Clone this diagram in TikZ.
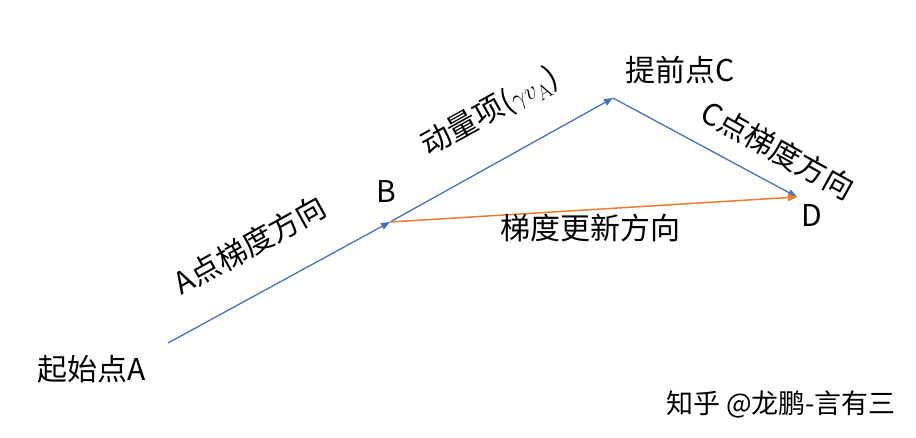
\documentclass[tikz,border=0pt]{standalone}
\usepackage{fontspec}
\newfontfamily\cjk{Noto Sans CJK SC}
\usetikzlibrary{arrows.meta}
\begin{document}
\begin{tikzpicture}[x=1pt,y=-1pt,
 lbl/.style={font=\cjk\fontsize{30}{34}\selectfont,inner sep=0pt},
 blu/.style={draw={rgb,255:red,68;green,114;blue,196},line width=1.3pt,-{Triangle[length=9pt,width=7pt]}},
 org/.style={draw={rgb,255:red,237;green,125;blue,49},line width=1.5pt,-{Triangle[length=9pt,width=7pt]}}]
\useasboundingbox (0,0) rectangle (916,438);
\coordinate (A) at (168,343);
\coordinate (B) at (390,222);
\coordinate (C) at (613,98);
\coordinate (D) at (797,197);
\draw[blu] (A) -- (B);
\draw[blu] (B) -- (C);
\draw[blu] (C) -- (D);
\draw[org] (B) -- (D);
\node[lbl] (tA) at (92,369) {起始点A};
\node[lbl] (tB) at (386,192) {B};
\node[lbl] (tC) at (680,70) {提前点C};
\node[lbl] (tD) at (812,216) {D};
\node[lbl,rotate=29] (gA) at (250,245) {A点梯度方向};
\node[lbl,rotate=29] (mom) at (490,112) {动量项($\gamma v_{\mathrm{A}}$)};
\node[lbl,rotate=-29] (gC) at (778,150) {C点梯度方向};
\node[lbl] (gU) at (590,228) {梯度更新方向};
\node[lbl,font=\cjk\fontsize{27}{30}\selectfont] (wm) at (781,404) {知乎 @龙鹏-言有三};
\end{tikzpicture}
\end{document}
